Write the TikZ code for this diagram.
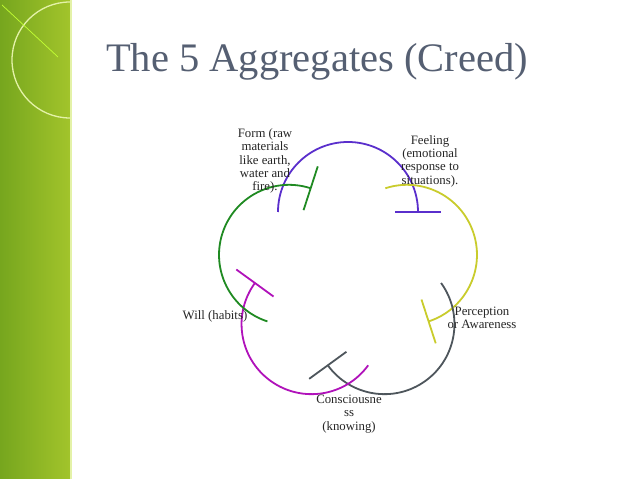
\documentclass[tikz,border=0pt]{standalone}
\usepackage{fontspec}
\setmainfont{Liberation Serif}
\usetikzlibrary{calc}

\definecolor{bandA}{HTML}{76A61E}
\definecolor{bandB}{HTML}{A2C42B}
\definecolor{bandLine}{HTML}{E4F2A8}
\definecolor{titleCol}{HTML}{555F72}
\definecolor{formCol}{HTML}{5A2FCC}
\definecolor{feelCol}{HTML}{C9CC2C}
\definecolor{percCol}{HTML}{4E565C}
\definecolor{consCol}{HTML}{B012BA}
\definecolor{willCol}{HTML}{1F8A22}

\tikzset{
    ring/.style={line width=1.8pt},
    lbl/.style={align=center, font=\fontsize{12.8}{13.3}\selectfont, text=black!85, inner sep=0pt},
}

\begin{document}
\begin{tikzpicture}[x=1pt, y=1pt]
    \useasboundingbox (0,0) rectangle (638,479);
    \fill[white] (0,0) rectangle (638,479);

    % side band
    \shade[left color=bandA, right color=bandB] (0,0) rectangle (70,479);
    \fill[bandLine] (70,0) rectangle (72,479);
    \begin{scope}
        \clip (0,0) rectangle (70,479);
        \draw[bandLine, line width=1.3pt] (70,419) circle[radius=58];
        \draw[green!30!yellow!80!white, line width=0.7pt] (2,474) -- (58,422);
    \end{scope}

    \node[anchor=base west, text=titleCol, font=\fontsize{40.5}{46}\selectfont, inner sep=0pt] (title) at (106,407) {The 5 Aggregates (Creed)};

    % circle centres
    \coordinate (mid) at (348,205);
    \coordinate (cform) at ($(mid)+(90:62)$);
    \coordinate (cfeel) at ($(mid)+(18:62)$);
    \coordinate (cperc) at ($(mid)+(-54:62)$);
    \coordinate (ccons) at ($(mid)+(-126:62)$);
    \coordinate (cwill) at ($(mid)+(162:62)$);

    \draw[ring, formCol] ($(cform)+(180:70)$) arc[start angle=180, end angle=0, radius=70];
    \draw[ring, formCol] ($(cform)+(0:47)$) -- ($(cform)+(0:93)$);
    \draw[ring, feelCol] ($(cfeel)+(108:70)$) arc[start angle=108, end angle=-72, radius=70];
    \draw[ring, feelCol] ($(cfeel)+(-72:47)$) -- ($(cfeel)+(-72:93)$);
    \draw[ring, percCol] ($(cperc)+(36:70)$) arc[start angle=36, end angle=-144, radius=70];
    \draw[ring, percCol] ($(cperc)+(-144:47)$) -- ($(cperc)+(-144:93)$);
    \draw[ring, consCol] ($(ccons)+(-36:70)$) arc[start angle=-36, end angle=-216, radius=70];
    \draw[ring, consCol] ($(ccons)+(-216:47)$) -- ($(ccons)+(-216:93)$);
    \draw[ring, willCol] ($(cwill)+(252:70)$) arc[start angle=252, end angle=72, radius=70];
    \draw[ring, willCol] ($(cwill)+(72:47)$) -- ($(cwill)+(72:93)$);

    \node[lbl] (form) at (265,318) {Form (raw\\materials\\like earth,\\water and\\fire).};
    \node[lbl] (feel) at (430,318) {Feeling\\(emotional\\response to\\situations).};
    \node[lbl] (perc) at (482,161.5) {Perception\\or Awareness};
    \node[lbl] (cons) at (349,65) {Consciousne\\ss\\(knowing)};
    \node[lbl] (will) at (215,163) {Will (habits)};
\end{tikzpicture}
\end{document}
